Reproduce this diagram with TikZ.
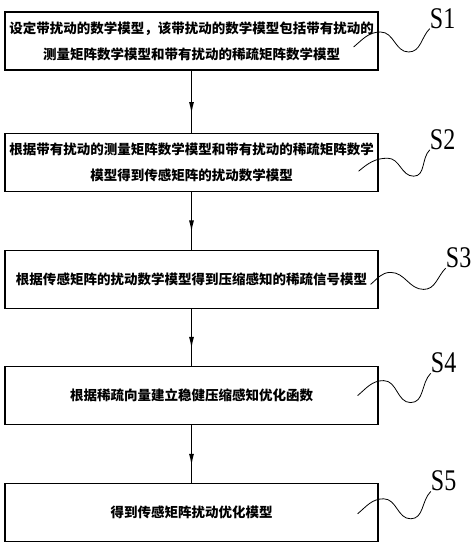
\documentclass[tikz,border=0pt]{standalone}
\usepackage{fontspec}
\setmainfont{Noto Sans CJK SC}
\newfontfamily\labelfont{Liberation Serif}
\usetikzlibrary{positioning, calc, arrows.meta, decorations.markings}

\begin{document}
\begin{tikzpicture}[
    x=1pt, y=1pt,
    node distance=58pt,
    stepbox/.style={rectangle, draw, line width=1.2pt, align=center, minimum width=373pt, minimum height=58pt, inner sep=0pt, font=\fontsize{13.5}{26}\selectfont\bfseries},
    midarrow/.style={line width=1.3pt, postaction={decorate}, decoration={markings, mark=at position 0.7 with {\arrow{Latex[length=12pt,width=5pt]}}}},
    steplabel/.style={inner sep=0pt, font=\fontsize{30}{30}\selectfont\labelfont},
    leader/.style={line width=0.8pt}
]
\useasboundingbox (0,0) rectangle (474,-543);

% Step S1
\node[stepbox] (b1) at (191.5,-41) {设定带扰动的数学模型，该带扰动的数学模型包括带有扰动的\\测量矩阵数学模型和带有扰动的稀疏矩阵数学模型};

% Step S2
\node[stepbox, below=62pt of b1] (b2) {根据带有扰动的测量矩阵数学模型和带有扰动的稀疏矩阵数学\\模型得到传感矩阵的扰动数学模型};

% Step S3
\node[stepbox, below=of b2] (b3) {根据传感矩阵的扰动数学模型得到压缩感知的稀疏信号模型};

% Step S4
\node[stepbox, below=57pt of b3] (b4) {根据稀疏向量建立稳健压缩感知优化函数};

% Step S5
\node[stepbox, below=of b4] (b5) {得到传感矩阵扰动优化模型};

% Labels
\node[steplabel] (s1) at ($(b1.north east)+(64,-7)$) {\scalebox{0.8}[1]{S1}};
\node[steplabel] (s2) at ($(b2.north east)+(64,-7)$) {\scalebox{0.8}[1]{S2}};
\node[steplabel] (s3) at ($(b3.north east)+(80,-8)$) {\scalebox{0.8}[1]{S3}};
\node[steplabel] (s4) at ($(b4.north east)+(65,3)$) {\scalebox{0.8}[1]{S4}};
\node[steplabel] (s5) at ($(b5.north east)+(65,2)$) {\scalebox{0.8}[1]{S5}};

% Leader starts
\coordinate (w1) at ($(b1.east)+(-25,-6)$);
\coordinate (w2) at ($(b2.east)+(-20,-9)$);
\coordinate (w3) at ($(b3.east)+(-8,-5)$);
\coordinate (w4) at ($(b4.east)+(-21,0)$);
\coordinate (w5) at ($(b5.east)+(-21,-1)$);

% Arrows
\draw[midarrow] (b1) -- (b2);
\draw[midarrow] (b2) -- (b3);
\draw[midarrow] (b3) -- (b4);
\draw[midarrow] (b4) -- (b5);

% Leaders
\draw[leader] (w1) to[out=40,in=180] ++(27,15) to[out=0,in=180] ++(28,-20) to[out=0,in=225] (s1.south west);
\draw[leader] (w2) to[out=40,in=180] ++(29,13) to[out=0,in=180] ++(26,-18) to[out=0,in=225] (s2.south west);
\draw[leader] (w3) to[out=40,in=180] ++(20,12) to[out=0,in=180] ++(33,-17) to[out=0,in=225] (s3.south west);
\draw[leader] (w4) to[out=40,in=180] ++(26,15) to[out=0,in=180] ++(27,-22) to[out=0,in=225] (s4.south west);
\draw[leader] (w5) to[out=40,in=180] ++(26,15) to[out=0,in=180] ++(27,-20) to[out=0,in=225] (s5.south west);

\end{tikzpicture}
\end{document}
